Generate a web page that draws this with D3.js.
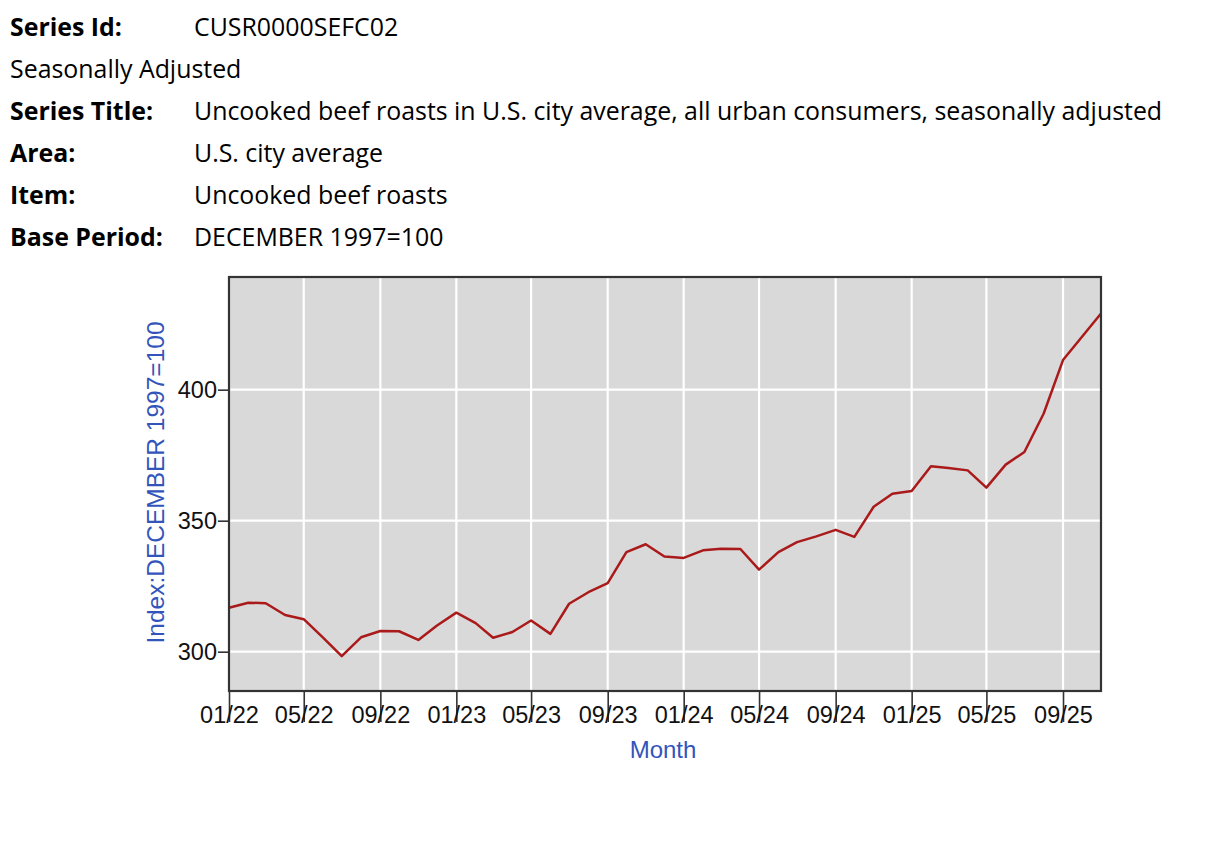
<!DOCTYPE html>
<html>
<head>
<meta charset="utf-8">
<script src="https://cdn.jsdelivr.net/npm/d3@7"></script>
<style>
  html, body { margin: 0; padding: 0; background: #fff; }
  svg { display: block; }
</style>
</head>
<body>
<svg id="chart" width="1212" height="852"></svg>
<script>
// ---- Header metadata ----
const headerLabels = ["Series Id:", null, "Series Title:", "Area:", "Item:", "Base Period:"];
const headerValues = [
  "CUSR0000SEFC02",
  "Seasonally Adjusted",
  "Uncooked beef roasts in U.S. city average, all urban consumers, seasonally adjusted",
  "U.S. city average",
  "Uncooked beef roasts",
  "DECEMBER 1997=100"
];

// ---- Series data (monthly index, Oct 2025 not published) ----
const months = [
  "2022-01","2022-02","2022-03","2022-04","2022-05","2022-06","2022-07","2022-08","2022-09","2022-10","2022-11","2022-12",
  "2023-01","2023-02","2023-03","2023-04","2023-05","2023-06","2023-07","2023-08","2023-09","2023-10","2023-11","2023-12",
  "2024-01","2024-02","2024-03","2024-04","2024-05","2024-06","2024-07","2024-08","2024-09","2024-10","2024-11","2024-12",
  "2025-01","2025-02","2025-03","2025-04","2025-05","2025-06","2025-07","2025-08","2025-09","2025-11"
];
const values = [
  316.8, 318.7, 318.5, 314.0, 312.4, 305.4, 298.3, 305.5, 307.9, 307.8, 304.5, 310.0,
  314.9, 310.9, 305.3, 307.5, 311.9, 306.8, 318.3, 322.7, 326.2, 338.0, 341.0, 336.3,
  335.8, 338.7, 339.3, 339.2, 331.3, 338.0, 341.8, 344.0, 346.5, 343.8, 355.3, 360.3,
  361.3, 370.8, 370.1, 369.2, 362.6, 371.4, 376.2, 390.9, 411.3, 429.1
];
const yTicks = [300, 350, 400];
const xTickMonths = ["2022-01","2022-05","2022-09","2023-01","2023-05","2023-09","2024-01","2024-05","2024-09","2025-01","2025-05","2025-09"];
const xDomain = ["2022-01", "2025-11"];
const yDomain = [285, 443];
const yTitle = "Index:DECEMBER 1997=100";
const xTitle = "Month";

// ---- Layout ----
const svg = d3.select("#chart");
const plot = { left: 229, right: 1101, top: 277, bottom: 691 };
const parse = d3.utcParse("%Y-%m");

const x = d3.scaleUtc().domain(xDomain.map(parse)).range([plot.left, plot.right]);
const y = d3.scaleLinear().domain(yDomain).range([plot.bottom, plot.top]);

// Header
const headerFont = "'Open Sans', 'Noto Sans', sans-serif";
const hdr = svg.append("g").attr("font-family", headerFont).attr("font-size", 24.9).attr("fill", "#000");
headerValues.forEach((v, i) => {
  const by = 36 + i * 42;
  const lab = headerLabels[i];
  if (lab) {
    hdr.append("text").attr("x", 10).attr("y", by).attr("font-weight", 700).text(lab);
    hdr.append("text").attr("x", 194).attr("y", by).text(v);
  } else {
    hdr.append("text").attr("x", 10).attr("y", by).text(v);
  }
});

// Plot background
svg.append("rect")
  .attr("x", plot.left).attr("y", plot.top)
  .attr("width", plot.right - plot.left).attr("height", plot.bottom - plot.top)
  .attr("fill", "#d9d9d9");

// Gridlines
const grid = svg.append("g").attr("stroke", "#ffffff").attr("stroke-width", 2.2);
grid.selectAll("line.h").data(yTicks).join("line")
  .attr("x1", plot.left).attr("x2", plot.right)
  .attr("y1", d => y(d)).attr("y2", d => y(d));
grid.selectAll("line.v").data(xTickMonths.map(parse)).join("line")
  .attr("x1", d => x(d)).attr("x2", d => x(d))
  .attr("y1", plot.top).attr("y2", plot.bottom);

// Line
const data = months.map((m, i) => ({ date: parse(m), value: values[i] }));
svg.append("path")
  .datum(data)
  .attr("fill", "none")
  .attr("stroke", "#aa1a1a")
  .attr("stroke-width", 2.5)
  .attr("stroke-linejoin", "round")
  .attr("d", d3.line().x(d => x(d.date)).y(d => y(d.value)));

// Frame
svg.append("rect")
  .attr("x", plot.left).attr("y", plot.top)
  .attr("width", plot.right - plot.left).attr("height", plot.bottom - plot.top)
  .attr("fill", "none").attr("stroke", "#333").attr("stroke-width", 2.2);

// Axes
const axisFont = "'Liberation Sans', Arial, sans-serif";
const yAxis = svg.append("g")
  .attr("transform", `translate(${plot.left},0)`)
  .call(d3.axisLeft(y).tickValues(yTicks).tickSize(11).tickPadding(1).tickFormat(d3.format("d")));
yAxis.select(".domain").remove();
yAxis.selectAll(".tick line").attr("stroke", "#333").attr("stroke-width", 1.6);
yAxis.selectAll(".tick text").attr("font-family", axisFont).attr("font-size", 23.5).attr("fill", "#111");

const xAxis = svg.append("g")
  .attr("transform", `translate(0,${plot.bottom})`)
  .call(d3.axisBottom(x).tickValues(xTickMonths.map(parse)).tickSize(31).tickPadding(-25).tickFormat(d3.utcFormat("%m/%y")));
xAxis.select(".domain").remove();
xAxis.selectAll(".tick line").attr("stroke", "#333").attr("stroke-width", 1.6);
xAxis.selectAll(".tick text").attr("font-family", axisFont).attr("font-size", 23.5).attr("fill", "#111")
  .attr("dy", null).attr("y", 32);

// Axis titles
svg.append("text")
  .attr("transform", `translate(164,482.5) rotate(-90)`)
  .attr("text-anchor", "middle")
  .attr("font-family", axisFont).attr("font-size", 24.5).attr("fill", "#3355bb")
  .text(yTitle);
svg.append("text")
  .attr("x", 663).attr("y", 758)
  .attr("text-anchor", "middle")
  .attr("font-family", axisFont).attr("font-size", 24).attr("fill", "#3355bb")
  .text(xTitle);
</script>
</body>
</html>
